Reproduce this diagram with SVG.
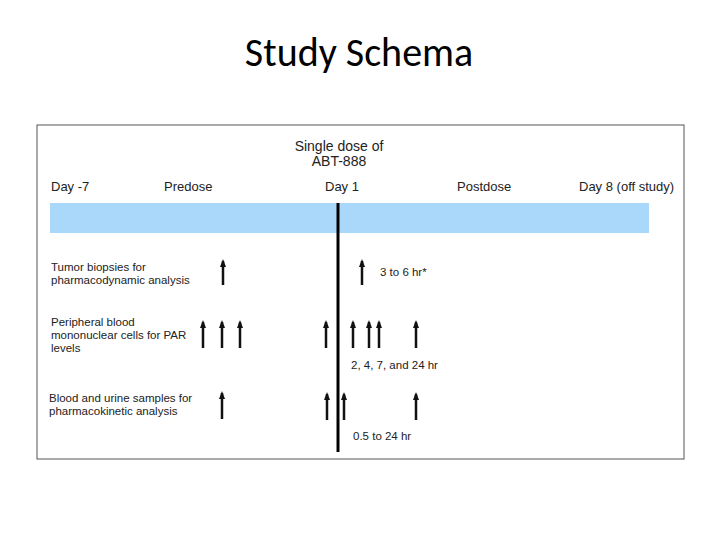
<svg xmlns="http://www.w3.org/2000/svg" width="720" height="540" viewBox="0 0 720 540">
<style>
.t{font-family:"Liberation Sans",Arial,sans-serif;font-size:11.5px;fill:#222}
.d{font-family:"Liberation Sans",Arial,sans-serif;font-size:13px;fill:#222}
.h{font-family:"Liberation Sans",Arial,sans-serif;font-size:14px;fill:#222}
.a{stroke:#111;stroke-width:2.5;fill:none;marker-end:url(#ah)}
</style>
<defs><marker id="ah" viewBox="0 0 8 6" refX="6" refY="3" markerWidth="8" markerHeight="6" markerUnits="userSpaceOnUse" orient="auto"><path d="M0,0 L8,3 L0,6 Z" fill="#111"/></marker></defs>
<rect width="720" height="540" fill="#fff"/>
<text x="359" y="66" text-anchor="middle" font-family="Calibri,'Liberation Sans',sans-serif" font-size="40" fill="#000">Study Schema</text>
<g id="frame"><rect x="37" y="125" width="647" height="334" fill="#fff" stroke="#555" stroke-width="1"/></g>
<g id="band"><rect x="50" y="203" width="599" height="30" fill="#a9d8fb"/></g>
<g id="header">
<text class="h" x="339" y="151" text-anchor="middle">Single dose of</text>
<text class="h" x="339" y="166" text-anchor="middle">ABT-888</text>
<text class="d" x="51" y="191">Day -7</text>
<text class="d" x="164" y="191">Predose</text>
<text class="d" x="325" y="191">Day 1</text>
<text class="d" x="457" y="191">Postdose</text>
<text class="d" x="579" y="191">Day 8 (off study)</text>
</g>
<g id="labels">
<text class="t" x="51" y="271">Tumor biopsies for</text>
<text class="t" x="51" y="284">pharmacodynamic analysis</text>
<text class="t" x="380" y="276">3 to 6 hr*</text>
<text class="t" x="51" y="326">Peripheral blood</text>
<text class="t" x="51" y="339">mononuclear cells for PAR</text>
<text class="t" x="51" y="352">levels</text>
<text class="t" x="351" y="369">2, 4, 7, and 24 hr</text>
<text class="t" x="49" y="402">Blood and urine samples for</text>
<text class="t" x="49" y="415">pharmacokinetic analysis</text>
<text class="t" x="353" y="440">0.5 to 24 hr</text>
</g>
<g id="connectors">
<line x1="338" y1="203" x2="338" y2="452" stroke="#000" stroke-width="3"/>
<line class="a" x1="223" y1="285" x2="223" y2="261"/>
<line class="a" x1="362" y1="285" x2="362" y2="261"/>
<line class="a" x1="203" y1="348" x2="203" y2="322"/>
<line class="a" x1="222" y1="348" x2="222" y2="322"/>
<line class="a" x1="240" y1="348" x2="240" y2="322"/>
<line class="a" x1="326" y1="348" x2="326" y2="322"/>
<line class="a" x1="353" y1="348" x2="353" y2="322"/>
<line class="a" x1="369" y1="348" x2="369" y2="322"/>
<line class="a" x1="379" y1="348" x2="379" y2="322"/>
<line class="a" x1="416" y1="348" x2="416" y2="322"/>
<line class="a" x1="222" y1="419" x2="222" y2="393"/>
<line class="a" x1="327" y1="420" x2="327" y2="394"/>
<line class="a" x1="344" y1="420" x2="344" y2="394"/>
<line class="a" x1="416" y1="420" x2="416" y2="394"/>
</g>
</svg>
